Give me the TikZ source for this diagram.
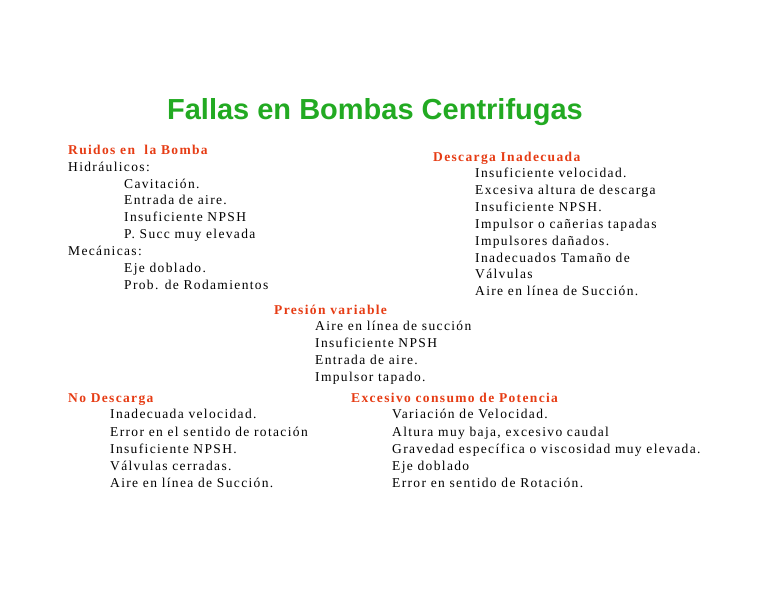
\documentclass[tikz,border=0pt]{standalone}
\usepackage{fontspec}
\setmainfont{Liberation Serif}[LetterSpace=10]
\newfontfamily\titlefont{Liberation Sans}
\definecolor{titlegreen}{RGB}{34,170,34}
\definecolor{headred}{RGB}{230,60,20}
\begin{document}
\begin{tikzpicture}[x=1pt,y=-1pt,
  txt/.style={anchor=base west,inner sep=0pt,yshift=-4.5pt,font=\fontsize{13.5}{15}\selectfont},
  head/.style={anchor=base west,inner sep=0pt,yshift=-4.5pt,font=\fontsize{13.5}{15}\selectfont\bfseries,text=headred}]
\useasboundingbox (0,0) rectangle (768,594);
\node[inner sep=0pt,font=\titlefont\fontsize{29}{32}\selectfont\bfseries,text=titlegreen] (title) at (375,112) {Fallas en Bombas Centrifugas};
% Ruidos
\node[head] (h1) at (68,150) {Ruidos en\ \ la Bomba};
\node[txt] (a1) at (68,167) {Hidráulicos:};
\node[txt] (a2) at (124,184) {Cavitación.};
\node[txt] (a3) at (124,200) {Entrada de aire.};
\node[txt] (a4) at (124,217) {Insuficiente NPSH};
\node[txt] (a5) at (124,234) {P. Succ muy elevada};
\node[txt] (a6) at (68,251) {Mecánicas:};
\node[txt] (a7) at (124,268) {Eje doblado.};
\node[txt] (a8) at (124,285) {Prob. de Rodamientos};
% Descarga
\node[head] (h2) at (433,157) {Descarga Inadecuada};
\node[txt] (b1) at (475,173) {Insuficiente velocidad.};
\node[txt] (b2) at (475,190) {Excesiva altura de descarga};
\node[txt] (b3) at (475,207) {Insuficiente NPSH.};
\node[txt] (b4) at (475,224) {Impulsor o cañerias tapadas};
\node[txt] (b5) at (475,241) {Impulsores dañados.};
\node[txt] (b6) at (475,258) {Inadecuados Tamaño de};
\node[txt] (b7) at (475,274) {Válvulas};
\node[txt] (b8) at (475,291) {Aire en línea de Succión.};
% Presion
\node[head] (h3) at (274,310) {Presión variable};
\node[txt] (c1) at (315,326) {Aire en línea de succión};
\node[txt] (c2) at (315,343) {Insuficiente NPSH};
\node[txt] (c3) at (315,360) {Entrada de aire.};
\node[txt] (c4) at (315,377) {Impulsor tapado.};
% No descarga
\node[head] (h4) at (68,398) {No Descarga};
\node[txt] (d1) at (110,414) {Inadecuada velocidad.};
\node[txt] (d2) at (110,432) {Error en el sentido de rotación};
\node[txt] (d3) at (110,449) {Insuficiente NPSH.};
\node[txt] (d4) at (110,466) {Válvulas cerradas.};
\node[txt] (d5) at (110,483) {Aire en línea de Succión.};
% Excesivo
\node[head] (h5) at (351,398) {Excesivo consumo de Potencia};
\node[txt] (e1) at (392,414) {Variación de Velocidad.};
\node[txt] (e2) at (392,432) {Altura muy baja, excesivo caudal};
\node[txt] (e3) at (392,449) {Gravedad específica o viscosidad muy elevada.};
\node[txt] (e4) at (392,466) {Eje doblado};
\node[txt] (e5) at (392,483) {Error en sentido de Rotación.};
\end{tikzpicture}
\end{document}
